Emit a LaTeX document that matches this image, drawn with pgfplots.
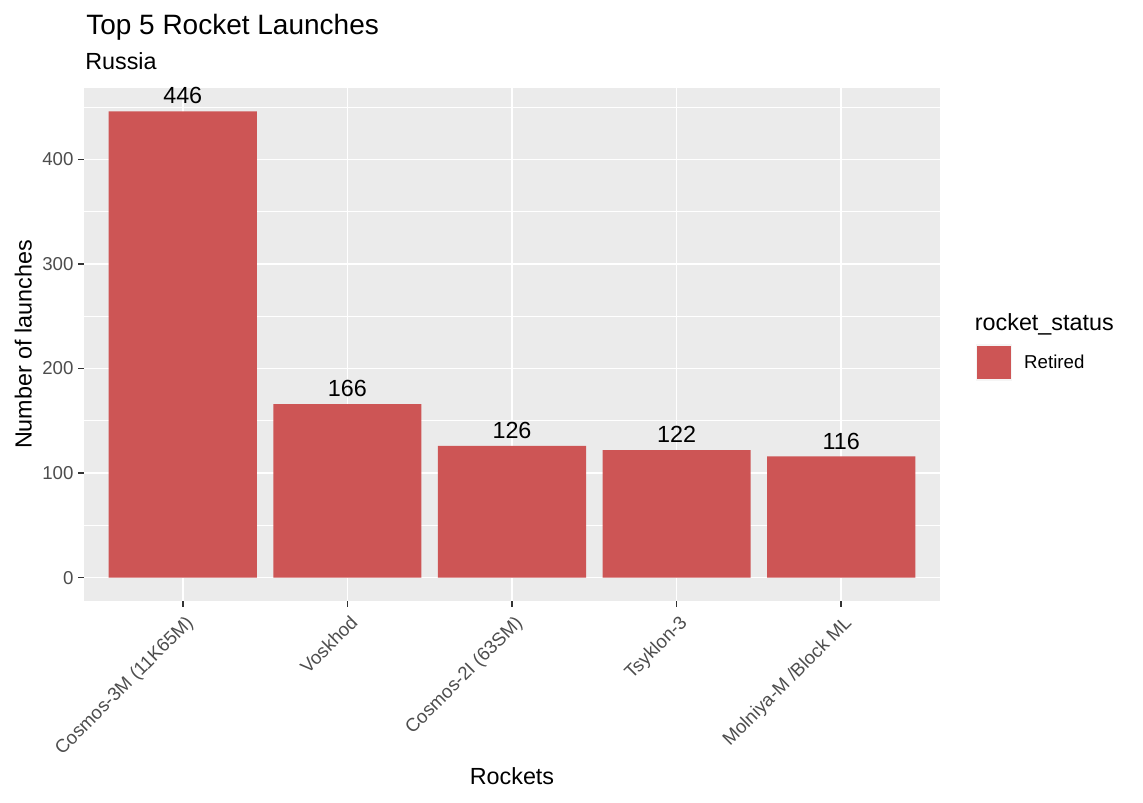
\documentclass[border=0pt]{standalone}
\usepackage{fontspec}
\setmainfont{Liberation Sans}
\usepackage{pgfplots}
\pgfplotsset{compat=1.18}

\definecolor{barred}{HTML}{CD5555}
\definecolor{panelbg}{HTML}{EBEBEB}
\definecolor{ticklab}{HTML}{4D4D4D}
\definecolor{tickcol}{HTML}{333333}

\begin{document}
\begin{tikzpicture}
% page = 1143 x 803 px at 0.75pt per px; axis box lower-left at (0,0)
\path[use as bounding box] (-63pt,-151.5pt) rectangle (794.25pt,450.75pt);

\begin{axis}[
    at={(0,0)}, anchor=south west,
    scale only axis,
    width=642pt, height=384.75pt,
    xmin=0.4, xmax=5.6,
    ymin=-22.3, ymax=468.3,
    axis background/.style={fill=panelbg},
    axis line style={draw=none},
    xtick={1,2,3,4,5},
    xticklabels={Cosmos-3M (11K65M), Voskhod, Cosmos-2I (63SM), Tsyklon-3, Molniya-M /Block ML},
    ytick={0,100,200,300,400},
    minor ytick={50,150,250,350,450},
    xtick pos=left, ytick pos=left,
    tick align=outside,
    major tick length=4.2pt,
    minor tick length=0pt,
    tick style={color=tickcol, line width=1.1pt},
    grid=both,
    major grid style={white, line width=1.1pt},
    minor grid style={white, line width=0.55pt},
    /pgf/number format/assume math mode=true,
    yticklabel style={font=\fontsize{14}{16}\selectfont, text=ticklab, inner sep=0pt, xshift=-3.5pt},
    xticklabel style={font=\fontsize{14}{16}\selectfont, text=ticklab, xshift=1.3pt, yshift=-5.5pt, rotate=45, anchor=north east, inner sep=0pt},
    ybar, bar width=0.9, bar shift=0pt,
    nodes near coords,
    every node near coord/.append style={font=\fontsize{17.5}{20}\selectfont, text=black, anchor=base, yshift=5.5pt, inner sep=0pt},
    legend style={at={(rel axis cs:1.0414,0.465)}, anchor=west, draw=none, fill=none,
        font=\fontsize{14}{16}\selectfont, inner sep=0pt, column sep=7pt},
    legend image code/.code={\draw[fill=barred, draw=gray!8, line width=1.2pt] (0pt,-13.1pt) rectangle (26.2pt,13.1pt);},
    clip=false,
]
\addplot[fill=barred, draw=none] coordinates {(1,446) (2,166) (3,126) (4,122) (5,116)};
\addlegendentry{Retired}
\end{axis}

% titles and axis titles
\node[anchor=base west, inner sep=0pt, font=\fontsize{21}{25}\selectfont] at (1.5pt,424.5pt) {Top 5 Rocket Launches};
\node[anchor=base west, inner sep=0pt, font=\fontsize{17.5}{20}\selectfont] at (0.8pt,398.3pt) {Russia};
\node[anchor=base, inner sep=0pt, rotate=90, font=\fontsize{17.5}{20}\selectfont] at (-39.3pt,192.4pt) {Number of launches};
\node[anchor=base, inner sep=0pt, font=\fontsize{17.5}{20}\selectfont] at (321pt,-138pt) {Rockets};
\node[anchor=base west, inner sep=0pt, font=\fontsize{17.5}{20}\selectfont] at (668pt,203pt) {rocket\_status};
\end{tikzpicture}
\end{document}
